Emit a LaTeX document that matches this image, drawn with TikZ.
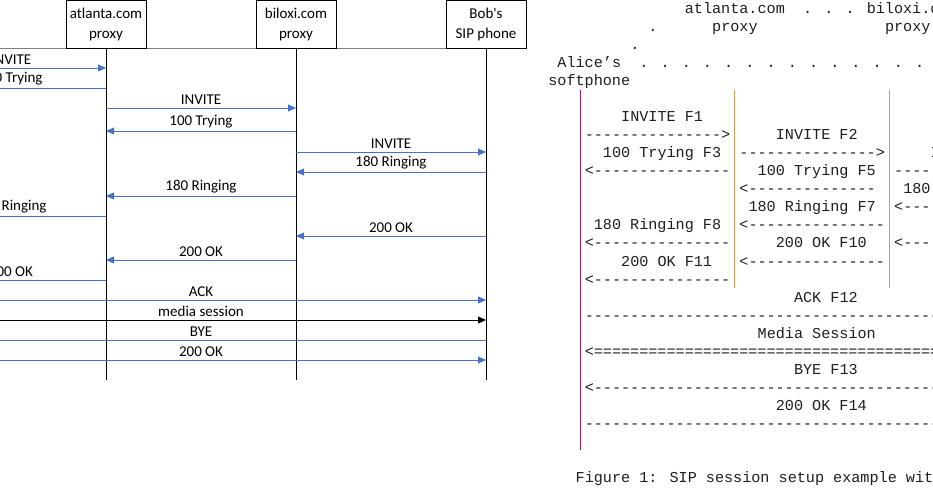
\documentclass[tikz,border=0pt]{standalone}
\usepackage{fontspec}
\usetikzlibrary{arrows.meta}
\newfontfamily\calfont{Carlito}
\newfontfamily\monofont{Liberation Mono}[Ligatures=NoCommon]
\definecolor{msgblue}{RGB}{68,114,196}
\definecolor{barmag}{RGB}{160,30,100}
\definecolor{barorg}{RGB}{215,150,90}
\definecolor{txt}{RGB}{30,30,30}
\tikzset{
  entity/.style={draw,line width=0.8pt,minimum width=80pt,minimum height=48pt,inner sep=0pt,align=center,font=\calfont\fontsize{15}{20}\selectfont,anchor=north},
  life/.style={line width=0.8pt},
  msg/.style={msgblue,line width=0.8pt,-{Triangle[length=8pt,width=7pt]}},
  msgnohead/.style={msgblue,line width=0.8pt},
  media/.style={black,line width=0.8pt,-{Triangle[length=8pt,width=7pt]}},
  lbl/.style={font=\calfont\fontsize{15}{15}\selectfont,inner sep=0pt,text=black},
  asc/.style={font=\monofont\fontsize{15.15}{18}\selectfont,inner sep=0pt,anchor=base west,text=txt},
  vbar/.style={line width=1pt},
}
\begin{document}
\begin{tikzpicture}[x=1pt,y=-1pt]
\def\txtat#1#2#3{\node[asc] at ({493.55+#1*9.1},{(8+#2*18.05)+5.3}) {#3};}
\def\sendmsg#1#2#3#4#5{\draw[#5] (#1|-0,#3) -- node[lbl,above=3pt,pos=0.5]{#4} (#2|-0,#3);}
\useasboundingbox (0,0) rectangle (933,490);
\clip (0,0) rectangle (933,490);
\draw[gray,line width=0.8pt] (0,48) -- (527,48);
\node[entity] (atl) at (106,0) {atlanta.com\\proxy};
\node[entity] (bil) at (296,0) {biloxi.com\\proxy};
\node[entity] (bob) at (486,0) {Bob's\\SIP phone};
\coordinate (alice) at (-84,48);
\coordinate (atlE) at (106,380);
\coordinate (bilE) at (296,380);
\coordinate (bobE) at (486,380);
\draw[life] (atl.south) -- (atlE);
\draw[life] (bil.south) -- (bilE);
\draw[life] (bob.south) -- (bobE);
\sendmsg{alice}{atl}{68}{INVITE}{msg}
\sendmsg{atl}{alice}{88}{100 Trying}{msg}
\sendmsg{atl}{bil}{108}{INVITE}{msg}
\sendmsg{bil}{atl}{131}{100 Trying}{msg}
\sendmsg{bil}{bob}{152}{INVITE}{msg}
\sendmsg{bob}{bil}{172}{180 Ringing}{msg}
\sendmsg{bil}{atl}{196}{180 Ringing}{msg}
\sendmsg{atl}{alice}{216}{180 Ringing}{msg}
\sendmsg{bob}{bil}{236}{200 OK}{msg}
\sendmsg{bil}{atl}{260}{200 OK}{msg}
\sendmsg{atl}{alice}{280}{200 OK}{msg}
\sendmsg{alice}{bob}{300}{ACK}{msg}
\sendmsg{alice}{bob}{320}{media session}{media}
\sendmsg{bob}{alice}{340}{BYE}{msgnohead}
\sendmsg{alice}{bob}{360}{200 OK}{msg}
\draw[vbar,barmag] (580,90) -- (580,450);
\draw[vbar,barorg] ({580+17*9.1},90) -- ({580+17*9.1},288);
\draw[vbar,barorg] ({580+34*9.1},90) -- ({580+34*9.1},288);
\draw[vbar,barorg] ({580+51*9.1},90) -- ({580+51*9.1},450);
\txtat{21}{0}{atlanta.com}
\txtat{34}{0}{. . . biloxi.com}
\txtat{17}{1}{.}
\txtat{24}{1}{proxy}
\txtat{43}{1}{proxy}
\txtat{53}{1}{.}
\txtat{15}{2}{.}
\txtat{55}{2}{.}
\txtat{7}{3}{Alice’s}
\txtat{16}{3}{. . . . . . . . . . . . . . . . . . . .}
\txtat{57}{3}{Bob’s}
\txtat{6}{4}{softphone}
\txtat{55}{4}{SIP Phone}
\txtat{14}{6}{INVITE F1}
\txtat{10}{7}{--------------->}
\txtat{31}{7}{INVITE F2}
\txtat{12}{8}{100 Trying F3}
\txtat{27}{8}{--------------->}
\txtat{48}{8}{INVITE F4}
\txtat{10}{9}{<---------------}
\txtat{29}{9}{100 Trying F5}
\txtat{44}{9}{--------------->}
\txtat{27}{10}{<--------------}
\txtat{45}{10}{180 Ringing F6}
\txtat{28}{11}{180 Ringing F7}
\txtat{44}{11}{<---------------}
\txtat{11}{12}{180 Ringing F8}
\txtat{27}{12}{<---------------}
\txtat{49}{12}{200 OK F9}
\txtat{10}{13}{<---------------}
\txtat{31}{13}{200 OK F10}
\txtat{44}{13}{<---------------}
\txtat{14}{14}{200 OK F11}
\txtat{27}{14}{<---------------}
\txtat{10}{15}{<---------------}
\txtat{33}{16}{ACK F12}
\txtat{10}{17}{------------------------------------------------->}
\txtat{29}{18}{Media Session}
\txtat{10}{19}{<================================================>}
\txtat{33}{20}{BYE F13}
\txtat{10}{21}{<-------------------------------------------------}
\txtat{31}{22}{200 OK F14}
\txtat{10}{23}{------------------------------------------------->}
\txtat{9}{26}{Figure 1: SIP session setup example with SIP trapezoid}
\end{tikzpicture}
\end{document}
